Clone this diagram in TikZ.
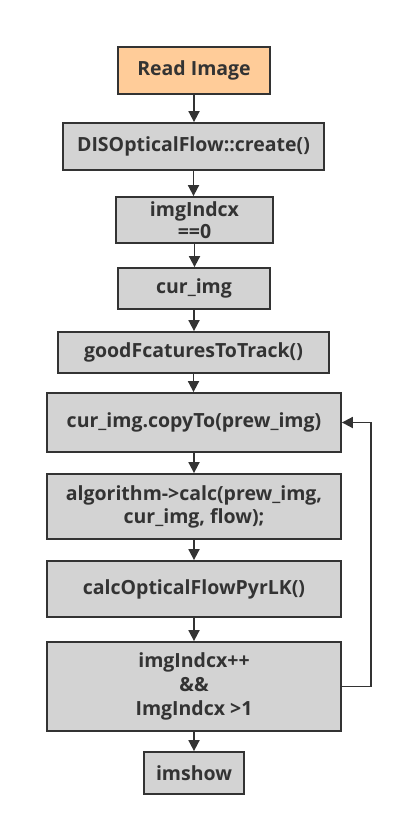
\documentclass[tikz,border=0pt]{standalone}
\usepackage{fontspec}
\setmainfont{Open Sans}
\usetikzlibrary{arrows.meta}
\definecolor{boxgray}{HTML}{D3D3D3}
\definecolor{boxorange}{HTML}{FFCC99}
\definecolor{edge}{HTML}{333333}
\begin{document}
\begin{tikzpicture}[x=1pt,y=-1pt,
  box/.style={draw=edge,line width=1.8pt,fill=boxgray,inner sep=0pt,align=center,
    font=\fontsize{19.5}{23}\selectfont\bfseries,text=edge},
  flow/.style={draw=edge,line width=1.8pt,-{Triangle[length=11pt,width=11pt]}}]
\useasboundingbox (0,0) rectangle (402,826);
\node[box,fill=boxorange,minimum width=152pt,minimum height=47pt] (read) at (194,70.5) {Read Image};
\node[box,minimum width=261pt,minimum height=47pt] (dis) at (193.5,146.5) {DISOpticalFlow::create()};
\node[box,minimum width=157pt,minimum height=46pt,font=\fontsize{19.5}{22}\selectfont\bfseries] (idx) at (194.5,220) {imgIndcx\\==0};
\node[box,minimum width=152pt,minimum height=41pt] (cur) at (194,288.5) {cur\_img};
\node[box,minimum width=271pt,minimum height=41pt] (good) at (193.5,352.5) {goodFcaturesToTrack()};
\node[box,minimum width=294pt,minimum height=59pt] (copy) at (194,422.5) {cur\_img.copyTo(prew\_img)};
\node[box,minimum width=294pt,minimum height=65pt] (algo) at (194,506.5) {algorithm->calc(prew\_img,\\cur\_img, flow);};
\node[box,minimum width=294pt,minimum height=56pt] (calc) at (194,589) {calcOpticalFlowPyrLK()};
\node[box,minimum width=294pt,minimum height=89pt,font=\fontsize{19.5}{24}\selectfont\bfseries] (inc) at (194,686.5) {imgIndcx++\\\&\&\\ImgIndcx >1};
\node[box,minimum width=100pt,minimum height=42pt] (show) at (194,773) {imshow};
\draw[flow] (read) -- (read |- dis.north);
\draw[flow] (dis) -- (dis |- idx.north);
\draw[flow] (idx) -- (idx |- cur.north);
\draw[flow] (cur) -- (cur |- good.north);
\draw[flow] (good) -- (good |- copy.north);
\draw[flow] (copy) -- (algo);
\draw[flow] (algo) -- (calc);
\draw[flow] (calc) -- (inc);
\draw[flow] (inc) -- (show);
\coordinate (loopx) at (371,0);
\draw[flow] (inc.east) -- (loopx |- inc.east) -- (loopx |- copy.east) -- (copy.east);
\end{tikzpicture}
\end{document}
